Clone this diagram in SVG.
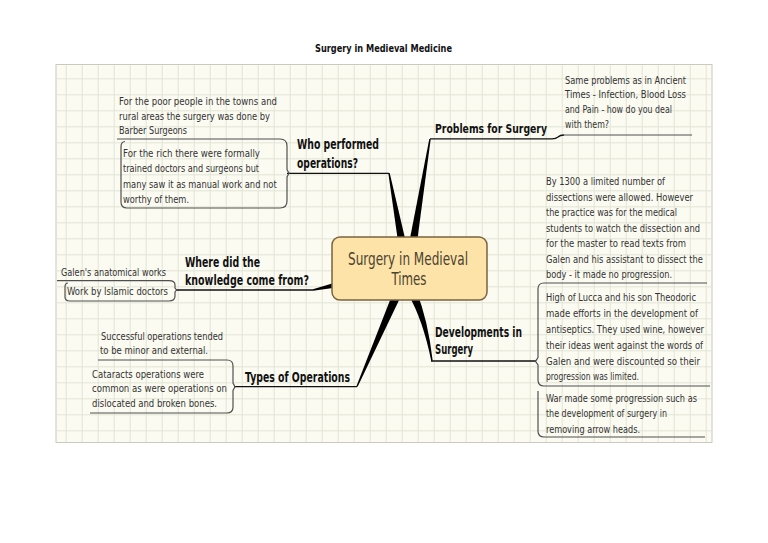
<svg xmlns="http://www.w3.org/2000/svg" width="768" height="543" viewBox="0 0 768 543">
<defs>
<pattern id="grid" x="65.7" y="62.3" width="16" height="16" patternUnits="userSpaceOnUse">
<path d="M0,0.5 H16 M0.5,0 V16" fill="none" stroke="#e2e4d6" stroke-width="1"/>
</pattern>
<style>
text{font-family:"Liberation Sans Narrow","DejaVu Sans Condensed","Liberation Sans",sans-serif;}
.sub{font-size:10.5px;fill:#333;}
.main{font-size:14px;fill:#111;font-weight:bold;}
.cen{font-size:18px;fill:#4a4232;}
.title{font-size:10px;font-weight:bold;fill:#111;}
.sl{fill:none;stroke:#505050;stroke-width:1.2;}
.ml{fill:none;stroke:#111;stroke-width:1.3;}
.con{fill:#000;}
</style>
</defs>
<rect width="768" height="543" fill="#fff"/>
<text class="title" x="315" y="51.5" textLength="137" lengthAdjust="spacingAndGlyphs">Surgery in Medieval Medicine</text>
<rect x="56" y="64.5" width="656" height="378" fill="#fbfbf1" stroke="#c9c9c0" stroke-width="1"/>
<rect x="56.5" y="65" width="655" height="377" fill="url(#grid)"/>

<g id="connectors">
<path class="con" d="M388.3,173.1 L389.7,172.9 L406.4,244.3 L398.6,245.7 Z"/>
<path class="con" d="M429.3,138.9 L430.7,139.1 L416.6,245.6 L408.8,244.4 Z"/>
<path class="con" d="M356.4,386.2 L357.6,386.8 L402.1,293.8 L393.9,290.2 Z"/>
<path class="con" d="M431.3,361.2 Q423,320 407.7,293.3 L416.3,290.7 Q428,320 432.7,360.8 Z"/>
<path class="con" d="M312.9,289.3 L313.1,290.7 L336.5,287.4 L335.5,282.6 Z"/>
</g>

<g id="center">
<rect x="332" y="237" width="155" height="63" rx="8" fill="#fde3a7" stroke="#7a6440" stroke-width="1.5"/>
<text class="cen" x="348" y="265" textLength="120" lengthAdjust="spacingAndGlyphs">Surgery in Medieval</text>
<text class="cen" x="391.5" y="285" textLength="35" lengthAdjust="spacingAndGlyphs">Times</text>
</g>

<g id="who">
<text class="main" x="297" y="149.3" textLength="82" lengthAdjust="spacingAndGlyphs">Who performed</text>
<text class="main" x="297" y="167.5" textLength="61" lengthAdjust="spacingAndGlyphs">operations?</text>
<path class="ml" d="M287,173.3 H389"/>
</g>
<g id="who-poor">
<text class="sub" x="119" y="105" textLength="158" lengthAdjust="spacingAndGlyphs">For the poor people in the towns and</text>
<text class="sub" x="119" y="119.5" textLength="151" lengthAdjust="spacingAndGlyphs">rural areas the surgery was done by</text>
<text class="sub" x="119" y="134" textLength="68" lengthAdjust="spacingAndGlyphs">Barber Surgeons</text>
<path class="sl" d="M117,139 H280 Q287,139 287,146 V169.5 L289,173.3 L287,177 V201 Q287,208 280,208 H127 Q121,208 121,202 V147 Q121,141.5 125,141.5"/>
</g>
<g id="who-rich">
<text class="sub" x="123" y="156.5" textLength="137" lengthAdjust="spacingAndGlyphs">For the rich there were formally</text>
<text class="sub" x="123" y="172" textLength="136" lengthAdjust="spacingAndGlyphs">trained doctors and surgeons but</text>
<text class="sub" x="123" y="187.5" textLength="153.7" lengthAdjust="spacingAndGlyphs">many saw it as manual work and not</text>
<text class="sub" x="123" y="203" textLength="66" lengthAdjust="spacingAndGlyphs">worthy of them.</text>
</g>

<g id="problems">
<text class="main" x="435" y="133.3" textLength="112" lengthAdjust="spacingAndGlyphs" style="font-size:13px">Problems for Surgery</text>
<path class="ml" d="M430,138.8 H552 Q556,138.8 558,137 Q560,135 564,135"/>
</g>
<g id="problems-same">
<text class="sub" x="565" y="84" textLength="121" lengthAdjust="spacingAndGlyphs">Same problems as in Ancient</text>
<text class="sub" x="565" y="98" textLength="121" lengthAdjust="spacingAndGlyphs">Times - Infection, Blood Loss</text>
<text class="sub" x="565" y="112.5" textLength="107" lengthAdjust="spacingAndGlyphs">and Pain - how do you deal</text>
<text class="sub" x="565" y="127.5" textLength="44" lengthAdjust="spacingAndGlyphs">with them?</text>
<path class="sl" d="M563,135 H692"/>
</g>

<g id="where">
<text class="main" x="185" y="266.7" textLength="75" lengthAdjust="spacingAndGlyphs">Where did the</text>
<text class="main" x="185" y="285" textLength="124" lengthAdjust="spacingAndGlyphs">knowledge come from?</text>
<path class="ml" d="M176,290 H313"/>
</g>
<g id="where-galen">
<text class="sub" x="61" y="276" textLength="105" lengthAdjust="spacingAndGlyphs">Galen's anatomical works</text>
<path class="sl" d="M57,280.7 H169 Q175,280.7 175,285 V288 L176.5,290 L175,292 V296 Q175,301 169,301 H70 Q65,301 65,297 V287 Q65,283 68,283"/>
</g>
<g id="where-islamic">
<text class="sub" x="67" y="295" textLength="101" lengthAdjust="spacingAndGlyphs">Work by Islamic doctors</text>
</g>

<g id="types">
<text class="main" x="245" y="381.7" textLength="105" lengthAdjust="spacingAndGlyphs">Types of Operations</text>
<path class="ml" d="M234,386.7 H357"/>
</g>
<g id="types-successful">
<text class="sub" x="101" y="340" textLength="122" lengthAdjust="spacingAndGlyphs">Successful operations tended</text>
<text class="sub" x="100" y="354" textLength="108" lengthAdjust="spacingAndGlyphs">to be minor and external.</text>
<path class="sl" d="M98,360 H227 Q233,360 233,366 V383 L235,386.7 L233,390.5 V407 Q233,413 227,413 H90"/>
</g>
<g id="types-cataracts">
<text class="sub" x="92" y="378" textLength="112" lengthAdjust="spacingAndGlyphs">Cataracts operations were</text>
<text class="sub" x="92" y="392" textLength="135" lengthAdjust="spacingAndGlyphs">common as were operations on</text>
<text class="sub" x="92" y="407" textLength="125" lengthAdjust="spacingAndGlyphs">dislocated and broken bones.</text>
</g>

<g id="developments">
<text class="main" x="435" y="337" textLength="87" lengthAdjust="spacingAndGlyphs">Developments in</text>
<text class="main" x="435" y="353.5" textLength="38" lengthAdjust="spacingAndGlyphs">Surgery</text>
<path class="ml" d="M431,361 H536"/>
</g>
<g id="dev-1300">
<text class="sub" x="546" y="185" textLength="119" lengthAdjust="spacingAndGlyphs">By 1300 a limited number of</text>
<text class="sub" x="546" y="200.5" textLength="147" lengthAdjust="spacingAndGlyphs">dissections were allowed. However</text>
<text class="sub" x="546" y="216" textLength="131" lengthAdjust="spacingAndGlyphs">the practice was for the medical</text>
<text class="sub" x="546" y="231.5" textLength="154" lengthAdjust="spacingAndGlyphs">students to watch the dissection and</text>
<text class="sub" x="546" y="247" textLength="140" lengthAdjust="spacingAndGlyphs">for the master to read texts from</text>
<text class="sub" x="546" y="262.5" textLength="157" lengthAdjust="spacingAndGlyphs">Galen and his assistant to dissect the</text>
<text class="sub" x="546" y="278" textLength="126" lengthAdjust="spacingAndGlyphs">body - it made no progression.</text>
<path class="sl" d="M707,283 H544 Q538,283 538,289 V357.5 L535.5,361.3 L538,365 V380 Q538,386 544,386 H710"/>
</g>
<g id="dev-lucca">
<text class="sub" x="546" y="301" textLength="150" lengthAdjust="spacingAndGlyphs">High of Lucca and his son Theodoric</text>
<text class="sub" x="546" y="316.5" textLength="152" lengthAdjust="spacingAndGlyphs">made efforts in the development of</text>
<text class="sub" x="546" y="332.5" textLength="158" lengthAdjust="spacingAndGlyphs">antiseptics. They used wine, however</text>
<text class="sub" x="546" y="348.5" textLength="157" lengthAdjust="spacingAndGlyphs">their ideas went against the words of</text>
<text class="sub" x="546" y="364.5" textLength="154" lengthAdjust="spacingAndGlyphs">Galen and were discounted so their</text>
<text class="sub" x="546" y="380" textLength="93" lengthAdjust="spacingAndGlyphs">progression was limited.</text>
</g>
<g id="dev-war">
<text class="sub" x="546" y="402" textLength="151" lengthAdjust="spacingAndGlyphs">War made some progression such as</text>
<text class="sub" x="546" y="417" textLength="121" lengthAdjust="spacingAndGlyphs">the development of surgery in</text>
<text class="sub" x="546" y="432.5" textLength="94" lengthAdjust="spacingAndGlyphs">removing arrow heads.</text>
<path class="sl" d="M538,391 V431 Q538,437 544,437 H705"/>
</g>
</svg>
